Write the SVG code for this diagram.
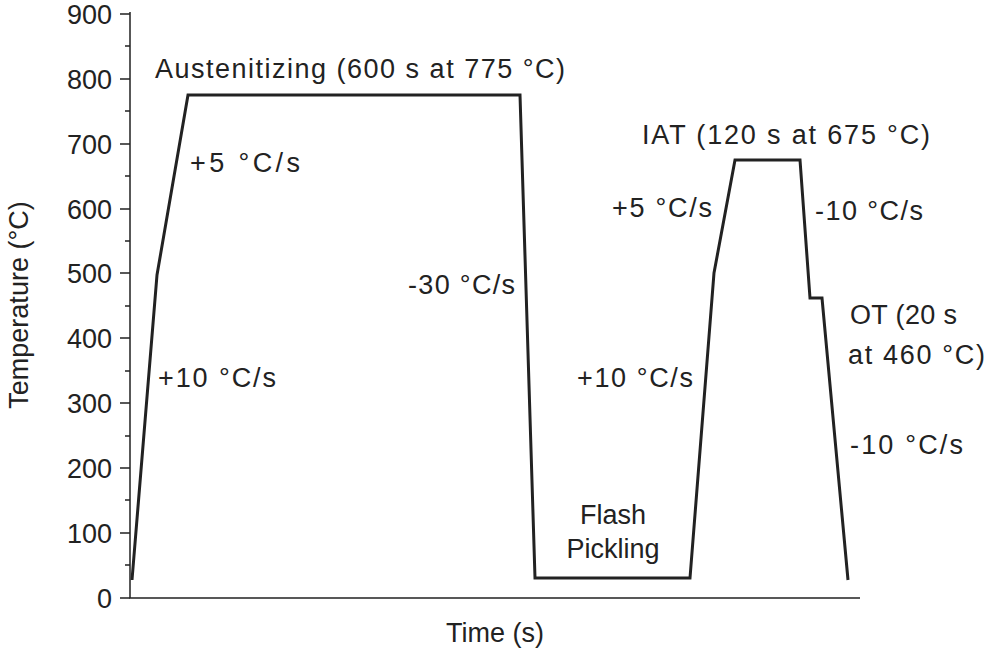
<svg xmlns="http://www.w3.org/2000/svg" width="1000" height="650" viewBox="0 0 1000 650">
<style>
text{font-family:"Liberation Sans",Arial,sans-serif;font-size:27px;fill:#222}
.ax{stroke:#222;stroke-width:1.5;fill:none}
.c{stroke:#222;stroke-width:3;fill:none;stroke-linejoin:miter}
.tl{text-anchor:end}
</style>
<rect width="1000" height="650" fill="#fff"/>
<g id="axes">
<path class="ax" d="M130,12 V598 H860"/>
<path class="ax" d="M120,14H130M120,79H130M120,144H130M120,209H130M120,273H130M120,338H130M120,403H130M120,468H130M120,533H130M120,598H130"/>
<path class="ax" d="M125,46H130M125,111H130M125,176H130M125,241H130M125,306H130M125,371H130M125,436H130M125,500H130M125,565H130"/>
<g>
<text x="112" y="24" class="tl">900</text>
<text x="112" y="89" class="tl">800</text>
<text x="112" y="154" class="tl">700</text>
<text x="112" y="219" class="tl">600</text>
<text x="112" y="283" class="tl">500</text>
<text x="112" y="348" class="tl">400</text>
<text x="112" y="413" class="tl">300</text>
<text x="112" y="478" class="tl">200</text>
<text x="112" y="543" class="tl">100</text>
<text x="112" y="608" class="tl">0</text>
</g>
<text x="495" y="642" text-anchor="middle">Time (s)</text>
<text transform="translate(28,305) rotate(-90)" text-anchor="middle">Temperature (°C)</text>
</g>
<g id="curve">
<path class="c" d="M132,580 L157,275 L188,95 L520,95 L535,578 L690,578 L714,273 L735,160 L800,160 L810,298 L822,298 L848,580"/>
</g>
<g id="labels">
<text x="155" y="78" textLength="410">Austenitizing (600 s at 775 °C)</text>
<text x="190" y="172" textLength="110">+5 °C/s</text>
<text x="158" y="387" textLength="118">+10 °C/s</text>
<text x="408" y="294" textLength="107">-30 °C/s</text>
<text x="613" y="524" text-anchor="middle">Flash</text>
<text x="613" y="558" text-anchor="middle">Pickling</text>
<text x="642" y="144" textLength="288">IAT (120 s at 675 °C)</text>
<text x="612" y="217" textLength="100">+5 °C/s</text>
<text x="815" y="220" textLength="108">-10 °C/s</text>
<text x="850" y="324" textLength="107">OT (20 s</text>
<text x="848" y="364" textLength="137">at 460 °C)</text>
<text x="577" y="387" textLength="116">+10 °C/s</text>
<text x="850" y="454" textLength="113">-10 °C/s</text>
</g>
</svg>
